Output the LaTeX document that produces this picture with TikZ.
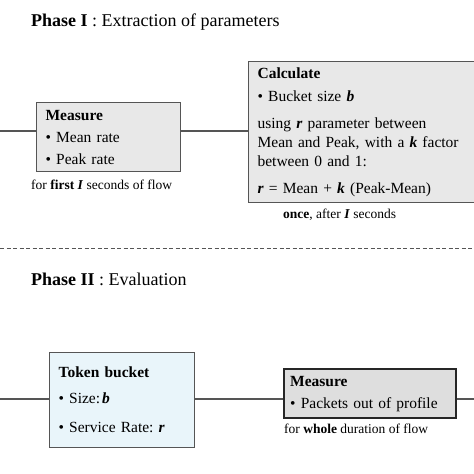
\documentclass[tikz,border=0pt]{standalone}
\usepackage{fontspec}
\setmainfont{Liberation Serif}
\frenchspacing
\definecolor{boxgray}{RGB}{232,232,232}
\definecolor{measgray}{RGB}{222,222,222}
\definecolor{tokenblue}{RGB}{233,245,250}
\definecolor{edgegray}{RGB}{85,85,85}
\newcommand{\bvar}[1]{\textbf{\textit{#1}}}
\begin{document}
\begin{tikzpicture}[x=1pt,y=-1pt,
  box/.style={draw=edgegray, line width=1.2pt, fill=boxgray, anchor=north west,
    align=left, inner xsep=9pt, inner ysep=0pt, font=\fontsize{15.5}{19}\selectfont},
  wire/.style={draw=edgegray, line width=1.1pt},
  note/.style={anchor=base west, inner sep=0pt, font=\fontsize{13.5}{16}\selectfont},
  title/.style={anchor=base west, inner sep=0pt, font=\fontsize{18}{22}\selectfont}]
  \useasboundingbox (0,0) rectangle (474,474);
  % Phase I: extraction of parameters
  \node[title] (title1) at (31,26) {\textbf{Phase I} : Extraction of parameters};
  \node[box, minimum width=144pt, minimum height=69pt, text width=126pt] (meas1) at (36,102)
    {\textbf{Measure}\\[3pt] \textbullet\ Mean rate\\[3pt] \textbullet\ Peak rate};
  \node[note] (note1) at (31,189) {for \textbf{first} \bvar{I} seconds of flow};
  \node[box, minimum width=226pt, minimum height=141pt, text width=208pt] (calc) at (248,61)
    {\textbf{Calculate}\\[4pt] \textbullet\ Bucket size \bvar{b}\\[8pt]
     using \bvar{r} parameter between\\ Mean and Peak, with a \bvar{k} factor\\ between 0 and 1:\\[8pt]
     \bvar{r} = Mean + \bvar{k} (Peak-Mean)};
  \node[note] (note2) at (283,218) {\textbf{once}, after \bvar{I} seconds};
  \coordinate (in1) at (0,131);
  \draw[wire] (in1) -- (in1 -| meas1.west);
  \draw[wire] (meas1.east |- in1) -- (calc.west |- in1);
  % separator
  \coordinate (sepL) at (0,248);
  \coordinate (sepR) at (474,248);
  \draw[edgegray, line width=0.8pt, dash pattern=on 4pt off 2.5pt] (sepL) -- (sepR);
  % Phase II: evaluation
  \node[title] (title2) at (31,285) {\textbf{Phase II} : Evaluation};
  \node[box, fill=tokenblue, minimum width=145pt, minimum height=95pt, text width=127pt] (token) at (49,352)
    {\textbf{Token bucket}\\[7pt] \textbullet\ Size:\hspace{2pt}\bvar{b}\\[10pt] \textbullet\ Service Rate: \bvar{r}};
  \node[box, fill=measgray, draw=black!85, line width=2.4pt, inner xsep=6pt,
    minimum width=172pt, minimum height=49pt, text width=160pt] (meas2) at (283,368)
    {\textbf{Measure}\\[3pt] \textbullet\ Packets out of profile};
  \node[note] (note3) at (284,433) {for \textbf{whole} duration of flow};
  \coordinate (in2) at (0,399);
  \coordinate (out2) at (474,399);
  \draw[wire] (in2) -- (in2 -| token.west);
  \draw[wire] (token.east |- in2) -- (meas2.west |- in2);
  \draw[wire] (meas2.east |- in2) -- (out2);
\end{tikzpicture}
\end{document}
